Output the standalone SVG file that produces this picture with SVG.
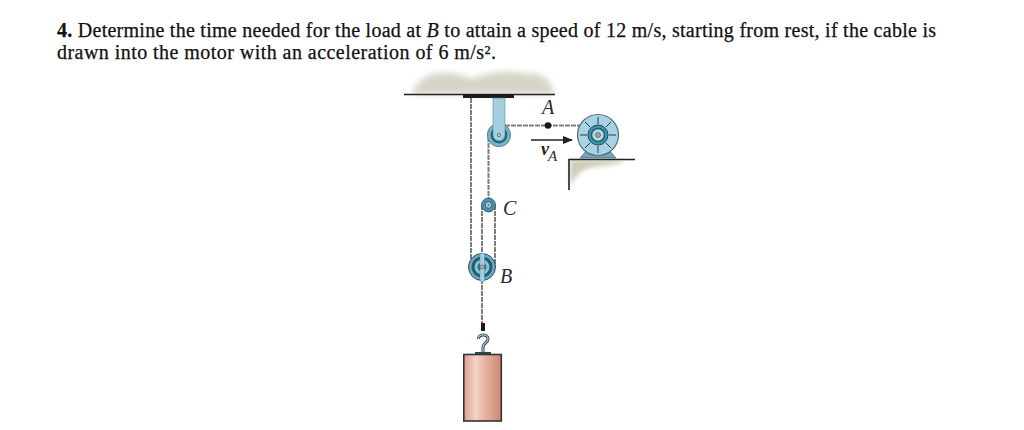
<svg xmlns="http://www.w3.org/2000/svg" width="1024" height="430" viewBox="0 0 1024 430">
<style>
.t{font-family:"Liberation Serif","DejaVu Serif",serif;font-size:20px;fill:#111;stroke:#111;stroke-width:.25}
.l{font-family:"Liberation Serif",serif;font-size:20px;font-style:italic;fill:#2a2a2a}
.s{font-size:15px}
.v{font-family:"Liberation Serif",serif;font-size:18px;font-weight:bold;font-style:italic;fill:#222}
.c{fill:none;stroke:#7c7e7f;stroke-width:2;stroke-dasharray:5 1}
.k{fill:none;stroke:#222}
</style>
<defs>
<filter id="s" x="-20%" y="-30%" width="140%" height="160%"><feGaussianBlur stdDeviation="3"/></filter>
<filter id="s2" x="-30%" y="-30%" width="160%" height="160%"><feGaussianBlur stdDeviation="2"/></filter>
<linearGradient id="g" x1="0" x2="1" y1="0" y2="0"><stop offset="0" stop-color="#dc9f8f"/><stop offset=".32" stop-color="#f2d3c8"/><stop offset=".65" stop-color="#e2a996"/><stop offset="1" stop-color="#cb8774"/></linearGradient>
<marker id="ah" viewBox="0 0 10 8" refX="9" refY="4" markerWidth="10" markerHeight="8" markerUnits="userSpaceOnUse" orient="auto"><path d="M0 0L10 4L0 8Z" fill="#222"/></marker>
</defs>

<g id="problem-text">
<text class="t" x="57" y="37" textLength="879" lengthAdjust="spacing"><tspan font-weight="bold">4.</tspan> Determine the time needed for the load at <tspan font-style="italic">B</tspan> to attain a speed of 12 m/s, starting from rest, if the cable is</text>
<text class="t" x="57" y="59" textLength="439" lengthAdjust="spacing">drawn into the motor with an acceleration of 6 m/s²<tspan>.</tspan></text>
</g>

<g id="ceiling">
<path d="M411 94C418 80 428 73 444 73C458 73 466 77 472 79C482 75 496 71 512 72C524 73 530 74 538 74C548 78 553 86 554 94Z" fill="#d6d4c6" filter="url(#s)"/>
<path d="M404 94.500H555" stroke="#222" stroke-width="1.300"/>
<rect x="463" y="94.500" width="51" height="3.500" fill="#1c1c1c"/>
</g>

<g id="support">
<path d="M570 160H626C616 167 600 165 589 168C580 170 575 178 570 186Z" fill="#cfcdb9" filter="url(#s2)"/>
<path d="M569 190V159.500H635" class="k" stroke-width="1.600"/>
</g>

<g id="connectors">
<path class="c" d="M471 98V267"/>
<path class="c" d="M488.500 137V205"/>
<path class="c" d="M482 205V267"/>
<path class="c" d="M495 205V267"/>
<path class="c" d="M482 267V324"/>
<path class="c" d="M505 125.500H584"/>
<path class="k" d="M531 140H572" stroke-width="1.600" marker-end="url(#ah)"/>
</g>

<g id="pulley-top">
<circle cx="499" cy="135" r="11.500" fill="#7fb4c8" stroke="#5c8ea1" stroke-width="1.200"/>
<circle cx="499" cy="135" r="8.500" fill="#1e6a80"/>
<path d="M493 98H505V135A6 6 0 0 1 493 135Z" fill="#a3cfe0" stroke="#4e7b8d" stroke-width=".5"/>
<circle cx="499" cy="135" r="1.600" fill="#cfd6d8" stroke="#333" stroke-width=".6"/>
</g>

<g id="point-A">
<circle cx="548" cy="125.500" r="3.300" fill="#1a1a1a"/>
<text class="l" x="548" y="114" text-anchor="middle">A</text>
</g>

<g id="motor">
<path d="M580 158L587 150H609L616 158Z" fill="#6fa7bb" stroke="#35586a" stroke-width=".6"/>
<circle cx="598" cy="135" r="20.500" fill="#a9d3e2" stroke="#51717f" stroke-width="1.200"/>
<path stroke="#1f3d4a" stroke-width="1" d="M598 117V124M598 146V153M580 135H587M609 135H616M585 122L590 127M611 122L606 127M585 148L590 143M611 148L606 143"/>
<circle cx="598" cy="135" r="10" fill="#3f93ab" stroke="#1c4a5b"/>
<circle cx="598" cy="135" r="6.500" fill="#b7dbe6" stroke="#1d5f74" stroke-width="1.500"/>
<circle cx="598" cy="135" r="2.500" fill="#9aa7ac" stroke="#444" stroke-width=".6"/>
</g>

<g id="velocity-label">
<text class="v" x="541" y="155">v</text>
<text class="l s" x="548" y="161">A</text>
</g>

<g id="pulley-C">
<circle cx="488.500" cy="205" r="7" fill="#4c8ea5" stroke="#2c5b6c" stroke-width=".8"/>
<circle cx="488.500" cy="205" r="3.200" fill="#bcdbe5" stroke="#1d5164" stroke-width=".8"/>
<circle cx="488.500" cy="205" r="1.200" fill="#777"/>
<text class="l" x="503" y="215">C</text>
</g>

<g id="pulley-B">
<circle cx="482" cy="267" r="13.500" fill="#6fa9bd" stroke="#23424f" stroke-width=".9"/>
<circle cx="482" cy="267" r="10.500" fill="#1f5f75"/>
<circle cx="482" cy="267" r="7.500" fill="#8fc0d2"/>
<circle cx="482" cy="267" r="4.500" fill="#2b7389"/>
<rect x="480" y="253" width="4.500" height="29" rx="2.200" fill="#a3d0e0" stroke="#4e8194" stroke-width=".4"/>
<circle cx="482" cy="267" r="2" fill="#bbb" stroke="#444" stroke-width=".6"/>
<text class="l" x="500" y="283">B</text>
</g>

<g id="load">
<rect x="481" y="323" width="4" height="8" fill="#1a1a1a"/>
<path d="M478.500 339C478.500 333.500 488 333.500 488 339C488 343 483 343 483 347V352" fill="none" stroke="#2b3f4a" stroke-width="3"/>
<path d="M478.500 339C478.500 333.500 488 333.500 488 339C488 343 483 343 483 347V352" fill="none" stroke="#9cc8da" stroke-width="1.300"/>
<rect x="475" y="352" width="16" height="3" fill="#2d4754"/>
<rect x="463.800" y="354.500" width="37.500" height="66.500" fill="url(#g)" stroke="#333" stroke-width="1.600"/>
</g>
</svg>
